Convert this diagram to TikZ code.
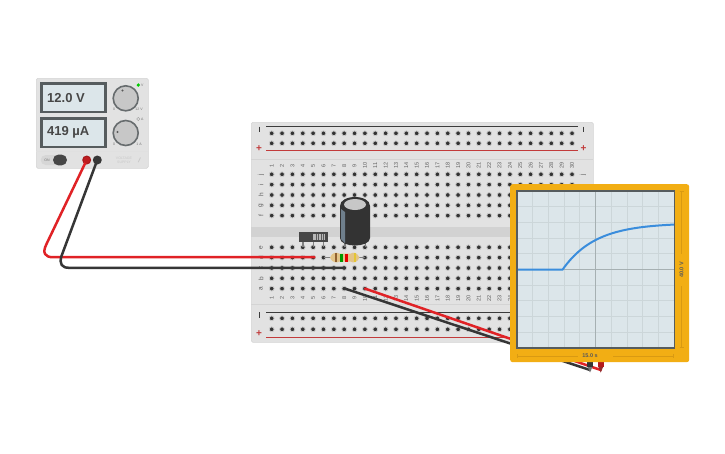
\documentclass[tikz,border=0pt]{standalone}
\usepackage{fontspec}
\setmainfont{Liberation Sans}
\definecolor{board}{HTML}{E2E2E2}
\definecolor{boardline}{HTML}{D4D4D4}
\definecolor{midstrip}{HTML}{D2D2D2}
\definecolor{hole}{HTML}{333333}
\definecolor{holering}{HTML}{CBCBCB}
\definecolor{railred}{HTML}{C23B3B}
\definecolor{railblack}{HTML}{3C3C3C}
\definecolor{labelgray}{HTML}{5E5E5E}
\definecolor{wirered}{HTML}{E02226}
\definecolor{wireblack}{HTML}{363636}
\definecolor{lcd}{HTML}{DCE6EA}
\definecolor{lcdframe}{HTML}{565C5E}
\definecolor{scopeorange}{HTML}{F2AE14}
\definecolor{scopemark}{HTML}{D99A12}
\definecolor{gridline}{HTML}{CCD6D9}
\definecolor{gridmid}{HTML}{A6B0B2}
\definecolor{trace}{HTML}{3A8DDC}
\definecolor{capbody}{HTML}{333333}
\definecolor{capstripe}{HTML}{6F7F8C}
\definecolor{restan}{HTML}{E3C488}
\tikzset{
  x=1pt,y=-1pt,
  holept/.style={circle,fill=hole,draw=holering,line width=.8pt,inner sep=0pt,minimum size=4.8pt},
  wire/.style={line width=2.5pt,line cap=round,line join=round},
  redwire/.style={wire,draw=wirered},
  blackwire/.style={wire,draw=wireblack},
  coltext/.style={font=\fontsize{5.5}{6}\selectfont,text=labelgray,rotate=90,inner sep=0pt},
  rowtext/.style={font=\fontsize{6.5}{7}\selectfont,text=labelgray,rotate=90,inner sep=0pt},
  lcdbox/.style={draw=lcdframe,line width=2.6pt,fill=lcd,inner sep=0pt,outer sep=0pt},
  lcdtext/.style={font=\bfseries\fontsize{13}{14}\selectfont,text=black!72,inner sep=0pt,anchor=west},
  knob/.style={circle,draw=lcdframe!90,line width=1.6pt,fill=black!22,inner sep=0pt,outer sep=0pt,minimum size=25pt},
  tiny/.style={font=\fontsize{3.5}{4}\selectfont,text=black!55,inner sep=0pt},
  terminal/.style={circle,inner sep=0pt,minimum size=9pt},
  scopetext/.style={font=\bfseries\fontsize{5.5}{6}\selectfont,text=black!65,inner sep=0pt},
  leg/.style={line width=1.4pt,draw=black!50},
  plusmark/.style={text=railred,inner sep=0pt,font=\bfseries\fontsize{10}{10}\selectfont},
}
\begin{document}
\begin{tikzpicture}
\useasboundingbox (0,0) rectangle (725,453);
\fill[white] (0,0) rectangle (725,453);

% ---------- breadboard ----------
\node[draw=boardline,fill=board,rounded corners=1.5pt,line width=.5pt,minimum width=342pt,minimum height=220pt,inner sep=0pt,anchor=north west] (boardbody) at (251,122) {};
\fill[midstrip] (251.3,227) rectangle (592.7,236.7);
\draw[boardline,line width=.6pt] (251.3,159.3) -- (592.7,159.3) (251.3,304) -- (592.7,304);
\draw[railblack,line width=.9pt] (266,126) -- (578,126) (266,312.3) -- (578,312.3);
\draw[railred,line width=.9pt] (266,150.7) -- (578,150.7) (266,337.3) -- (578,337.3);
\draw[railblack,line width=.8pt] (259,126.5) -- (259,132) (259,312) -- (259,318) (583.5,126.5) -- (583.5,132);
\foreach \xx/\yy in {259/148.5,259/333.5,583.5/148.5}{\node[plusmark] at (\xx,\yy) {+};}
\foreach \c in {1,...,30}{
  \pgfmathsetmacro{\xx}{271.7+(\c-1)*10.356}
  \foreach \yy in {133.3,143.3,174.3,184.6,195,205.3,215.6,247.3,257.6,268,278.3,288.6,318.3,329.3}{
    \node[holept] at (\xx,\yy) {};
  }
  \node[coltext] at (\xx,165.5) {\c};
  \node[coltext] at (\xx,298) {\c};
}
\foreach \l/\yy in {j/174.3,i/184.6,h/195,g/205.3,f/215.6,e/247.3,d/257.6,c/268,b/278.3,a/288.6}{
  \node[rowtext] at (261,\yy) {\l};
  \node[rowtext] at (583,\yy) {\l};
}

% ---------- slide switch ----------
\foreach \xx in {302.8,313.2,323.5}{\draw[leg] (\xx,240) -- (\xx,247.3);}
\fill[black!72] (299,231.7) rectangle (327.7,241.7);
\fill[black!28] (313,233.6) rectangle (325,240);
\foreach \xx in {316,318.5,321,323.5}{\draw[black!65,line width=.8pt] (\xx,233.6) -- (\xx,240);}

% ---------- capacitor ----------
\foreach \xx in {344.8,365.5}{\draw[leg] (\xx,242) -- (\xx,247.3);}
\path[fill=capbody] (340,206) .. controls (340,194) and (370,194) .. (370,206) -- (370,238) .. controls (370,248) and (340,248) .. (340,238) -- cycle;
\path[fill=capstripe] (341,209) -- (345,212) -- (345,243) -- (341,239) -- cycle;
\fill[black!22] (355,204.5) ellipse [x radius=11pt,y radius=5.5pt];

% ---------- resistor ----------
\coordinate (resL) at (323.5,257.6);
\coordinate (resR) at (364.9,257.6);
\draw[black!50,line width=1.2pt] (resL) -- (resR);
\path[fill=restan] (330,257.6) .. controls (332,252) and (337,252) .. (339,253.5) -- (351,253.5) .. controls (353,252) and (357,252) .. (359.5,257.6) .. controls (357,263) and (353,263) .. (351,261.7) -- (339,261.7) .. controls (337,263) and (332,263) .. (330,257.6) -- cycle;
\fill[brown!75!black] (334.5,252.8) rectangle (337.2,262.4);
\fill[green!60!black] (339.8,253.5) rectangle (342.6,261.7);
\fill[red!90!black] (344.8,253.5) rectangle (347.6,261.7);
\fill[yellow!55!brown] (354,253) rectangle (356,262);

% ---------- power supply ----------
\node[draw=boardline,fill=board,rounded corners=1.5pt,line width=.5pt,minimum width=112pt,minimum height=90pt,inner sep=0pt,anchor=north west] (psubody) at (36,78) {};
\draw[black!12,line width=.6pt] (36.3,151.7) -- (147.7,151.7);
\node[lcdbox,minimum width=64.4pt,minimum height=28.6pt,anchor=north west] (lcdV) at (41.3,83.3) {};
\node[lcdbox,minimum width=64.4pt,minimum height=28.6pt,anchor=north west] (lcdA) at (41.3,118.3) {};
\node[lcdtext] at (47,98) {12.0 V};
\node[lcdtext] at (47,132.5) {419 µA};
\node[knob] (knobV) at (125.7,98.3) {};
\node[knob] (knobA) at (125.7,133) {};
\fill[black!65] (122.5,90.5) circle (1.1pt);
\fill[black!65] (117.5,132) circle (1.1pt);
\node[tiny] at (114,109.5) {0};
\node[tiny] at (139,109.5) {12 V};
\node[tiny] at (114,144) {0};
\node[tiny] at (139,144) {1 A};
\fill[green!80!black] (138.3,85) circle (1.8pt);
\node[tiny,anchor=west] at (141,85) {V};
\draw[black!40,line width=.4pt] (138.3,119) circle (1.6pt);
\node[tiny,anchor=west] at (141,119) {A};
\fill[black!16,rounded corners=5pt] (40.7,155) rectangle (66.7,165);
\fill[black!72,rounded corners=5.4pt] (53,154.6) rectangle (67,165.4);
\node[tiny] at (47,160) {ON};
\node[tiny,text=black!22,align=center] at (124,160) {VOLTAGE\\SUPPLY};
\node[text=black!22,inner sep=0pt,font=\bfseries\fontsize{7}{7}\selectfont,rotate=-15] at (139.5,160) {/};
\node[terminal,fill=wireblack] (psuMinus) at (97.3,160) {};
\node[terminal,fill=wirered!75!black] (psuPlus) at (86.7,160) {};

% ---------- wires ----------
\coordinate (redA) at (314.5,257.2);
\coordinate (blackA) at (345,267.8);
\coordinate (redB) at (365,288.6);
\coordinate (blackB) at (345,288.6);
\coordinate (probeRed) at (600.7,370);
\coordinate (probeBlack) at (590,370);
\draw[redwire] (psuPlus.center) -- (46.5,244) .. controls (42,253) and (45,257.2) .. (53,257.2) -- (redA);
\draw[blackwire] (psuMinus.center) -- (61.5,256) .. controls (59,264) and (62,267.8) .. (69,267.8) -- (blackA);
\draw[blackwire] (blackB) -- (probeBlack);
\draw[redwire] (redB) -- (probeRed);
\node[terminal,fill=wirered!85!black,minimum size=6.5pt] at (86.7,160) {};
\fill[black!55] (587.2,366) -- (592.8,366) -- (590,372.5) -- cycle;
\fill[wirered!60!black!90] (598,366) -- (603.6,366) -- (600.7,372.5) -- cycle;
\fill[wireblack] (587,360) rectangle (592.8,367);
\fill[wirered!80!black] (597.7,360) rectangle (604,367);

% ---------- oscilloscope ----------
\node[fill=scopeorange,rounded corners=2.5pt,minimum width=179pt,minimum height=178pt,inner sep=0pt,anchor=north west] (scopebody) at (510,184) {};
\node[fill=lcd,outer sep=0pt,minimum width=157.5pt,minimum height=157pt,inner sep=0pt,anchor=north west] (screen) at (516.9,191) {};
\foreach \i in {1,2,3,4,6,7,8,9}{
  \draw[gridline,line width=.9pt] (516.9+\i*15.75,191) -- (516.9+\i*15.75,348);
  \draw[gridline,line width=.9pt] (516.9,191+\i*15.7) -- (674.4,191+\i*15.7);
}
\draw[gridmid,line width=.8pt] (595.7,191) -- (595.7,348);
\draw[gridmid,line width=.8pt] (516.9,269.5) -- (674.4,269.5);
\draw[trace,line width=2pt,line join=round] (516.9,269.7) -- (562.5,269.7) -- plot[domain=562.5:674.4,samples=60,smooth] (\x,{223+46.7*exp(-(\x-562.5)/32.8)});
\draw[lcdframe,line width=1.8pt] (screen.north west) rectangle (screen.south east);
\node[scopetext] (timelabel) at (590,356) {15.0 s};
\draw[scopemark,line width=.7pt] (517,354) -- (517,358) (517,356) -- (578,356) (613,356) -- (673.5,356) (673.5,354) -- (673.5,358);
\node[scopetext,rotate=90] (voltlabel) at (681.5,270) {40.0 V};
\draw[scopemark,line width=.7pt] (679.5,191) -- (683.5,191) (681.5,191) -- (681.5,254) (681.5,286) -- (681.5,347.5) (679.5,347.5) -- (683.5,347.5);
\end{tikzpicture}
\end{document}
